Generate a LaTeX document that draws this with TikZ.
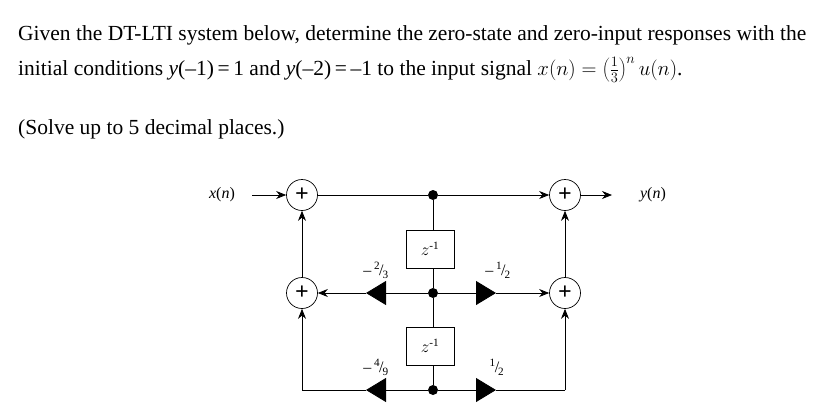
\documentclass[tikz,border=0pt]{standalone}
\usepackage{fontspec}
\setmainfont{Liberation Serif}
\usetikzlibrary{arrows.meta}
\begin{document}
\begin{tikzpicture}[x=1pt,y=-1pt,
  sum/.style={circle,draw,line width=0.7pt,minimum size=31pt,inner sep=0pt,font=\bfseries\fontsize{24}{24}\selectfont},
  delay/.style={draw,line width=0.7pt,minimum width=48pt,minimum height=38pt,inner sep=0pt,font=\fontsize{16}{16}\selectfont},
  dot/.style={circle,fill,inner sep=0pt,minimum size=10pt},
  wire/.style={line width=0.8pt},
  arr/.style={wire,-{Stealth[length=10pt,width=8pt]}},
  gain/.style={wire,-{Triangle[length=20pt,width=24pt]}},
  lab/.style={font=\fontsize{16}{16}\selectfont},
  txt/.style={anchor=base west,inner sep=0pt,font=\fontsize{21.5}{21.5}\selectfont}]
\useasboundingbox (0,0) rectangle (830,416);
\node[txt] (t1) at (18,40) {Given the DT-LTI system below, determine the zero-state and zero-input responses with the};
\node[txt] (t2) at (18,75) {initial conditions \textit{y}(--1)\,=\,1 and \textit{y}(--2)\,=\,--1 to the input signal $x(n)=\left(\frac{1}{3}\right)^{n}u(n)$.};
\node[txt] (t3) at (18,134) {(Solve up to 5 decimal places.)};

\node[sum] (s1) at (302,195) {+};
\node[sum] (s2) at (302,293) {+};
\node[sum] (s3) at (565,195) {+};
\node[sum] (s4) at (565,293) {+};
\node[dot] (d1) at (433,195) {};
\node[dot] (d2) at (433,293) {};
\node[dot] (d3) at (433,390) {};
\node[delay] (z1) at (430,249) {$z$\textsuperscript{-1}};
\node[delay] (z2) at (430,346) {$z$\textsuperscript{-1}};
\node[lab,inner sep=0pt] (x) at (222,195) {\textit{x}(\textit{n})};
\node[lab,inner sep=0pt] (y) at (653,195) {\textit{y}(\textit{n})};
\coordinate (xs) at (252,195);
\coordinate (ye) at (612,195);
\coordinate (gl1) at (366,293);
\coordinate (gr1) at (496,293);
\coordinate (gl2) at (366,390);
\coordinate (gr2) at (496,390);
\coordinate (bl) at (302,390);
\coordinate (br) at (565,390);

\draw[arr] (xs) -- (s1);
\draw[wire] (s1) -- (d1);
\draw[arr] (d1) -- (s3);
\draw[arr] (s3) -- (ye);
\draw[wire] (d1) -- (d1 |- z1.north);
\draw[wire] (d2 |- z1.south) -- (d2) -- (d2 |- z2.north);
\draw[wire] (d3 |- z2.south) -- (d3);
\draw[gain] (d2) -- (gl1);
\draw[arr] (gl1) -- (s2);
\draw[gain] (d2) -- (gr1);
\draw[arr] (gr1) -- (s4);
\draw[gain] (d3) -- (gl2);
\draw[wire] (gl2) -- (bl);
\draw[arr] (bl) -- (s2);
\draw[gain] (d3) -- (gr2);
\draw[wire] (gr2) -- (br);
\draw[arr] (br) -- (s4);
\draw[arr] (s2) -- (s1);
\draw[arr] (s4) -- (s3);

\node[lab] (l1) at (376,270) {--\,\textsuperscript{2}\kern-1pt/\kern-1pt\textsubscript{3}};
\node[lab] (l2) at (498,270) {--\,\textsuperscript{1}\kern-1pt/\kern-1pt\textsubscript{2}};
\node[lab] (l3) at (376,367) {--\,\textsuperscript{4}\kern-1pt/\kern-1pt\textsubscript{9}};
\node[lab] (l4) at (497,367) {\textsuperscript{1}\kern-1pt/\kern-1pt\textsubscript{2}};
\end{tikzpicture}
\end{document}
